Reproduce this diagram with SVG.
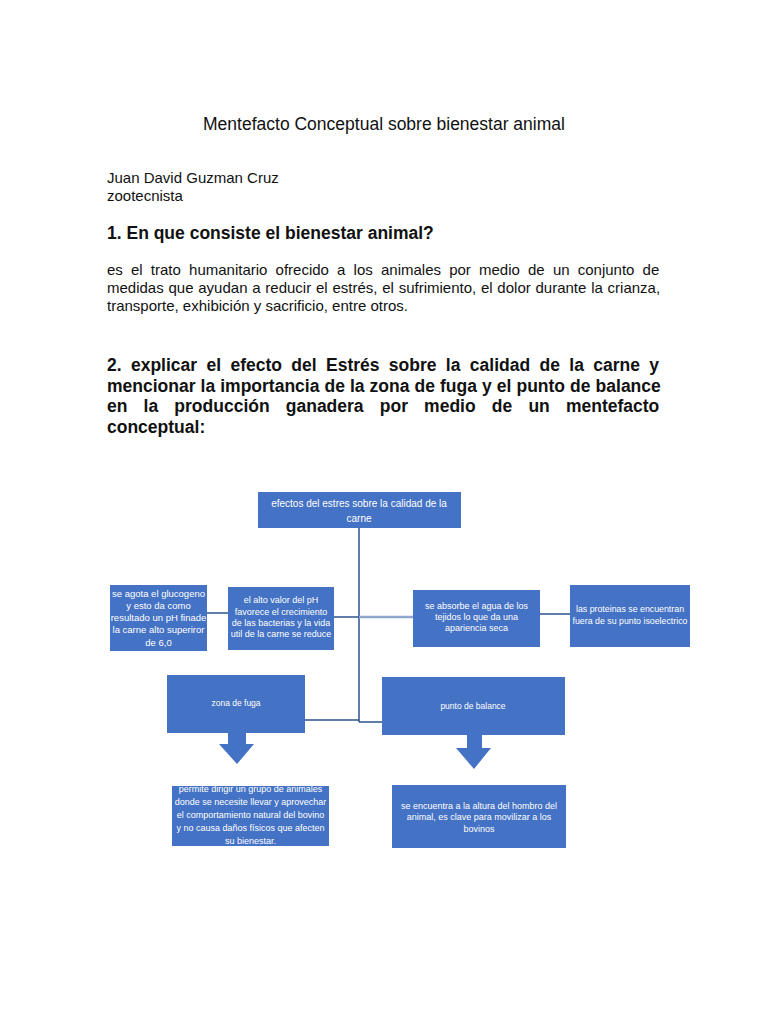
<svg xmlns="http://www.w3.org/2000/svg" width="768" height="1024" viewBox="0 0 768 1024">
<style>
.t{font-family:"Liberation Sans",Arial,sans-serif;fill:#111}
.b{font-weight:bold}
.box{fill:#4472C4}
.w{font-family:"Liberation Sans",Arial,sans-serif;fill:#fff;text-anchor:middle}
.ln{stroke:#2F528F;stroke-width:1.5;fill:none}
</style>
<rect width="768" height="1024" fill="#fff"/>
<text class="t" x="384" y="130" font-size="17.5" text-anchor="middle">Mentefacto Conceptual sobre bienestar animal</text>
<text class="t" x="107" y="183" font-size="15">Juan David Guzman Cruz</text>
<text class="t" x="107" y="201" font-size="15">zootecnista</text>
<text class="t b" x="107" y="239" font-size="17.5">1. En que consiste el bienestar animal?</text>
<text class="t" x="107" y="275" font-size="15" word-spacing="4">es el trato humanitario ofrecido a los animales por medio de un conjunto de</text>
<text class="t" x="107" y="293" font-size="15" word-spacing="0.6">medidas que ayudan a reducir el estrés, el sufrimiento, el dolor durante la crianza,</text>
<text class="t" x="107" y="311" font-size="15">transporte, exhibición y sacrificio, entre otros.</text>
<text class="t b" x="107" y="371" font-size="17.5" word-spacing="4.5">2. explicar el efecto del Estrés sobre la calidad de la carne y</text>
<text class="t b" x="107" y="391.5" font-size="17.5" word-spacing="0.2">mencionar la importancia de la zona de fuga y el punto de balance</text>
<text class="t b" x="107" y="412" font-size="17.5" word-spacing="11.3">en la producción ganadera por medio de un mentefacto</text>
<text class="t b" x="107" y="432.5" font-size="17.5">conceptual:</text>

<g id="connectors">
<line class="ln" x1="359" y1="528" x2="359" y2="722"/>
<line class="ln" x1="207" y1="613" x2="228" y2="613"/>
<line class="ln" x1="334" y1="617" x2="359" y2="617"/>
<line x1="359" y1="617" x2="413" y2="617" stroke="#8FA6CF" stroke-width="2.5"/>
<line class="ln" x1="540" y1="614" x2="570" y2="614"/>
<line class="ln" x1="305" y1="720" x2="359" y2="720"/>
<line class="ln" x1="359" y1="722" x2="382" y2="722"/>
</g>

<g id="n-top">
<rect class="box" x="258" y="492" width="203" height="36"/>
<text class="w" x="359" y="507" font-size="10">efectos del estres sobre la calidad de la</text>
<text class="w" x="359" y="522" font-size="10">carne</text>
</g>
<g id="n-glucogeno">
<rect class="box" x="110" y="585" width="97" height="66"/>
<text class="w" font-size="9.5"><tspan x="158.5" y="597">se agota el glucogeno</tspan><tspan x="158.5" y="609">y esto da como</tspan><tspan x="158.5" y="621">resultado un pH finade</tspan><tspan x="158.5" y="633">la carne alto superiror</tspan><tspan x="158.5" y="646">de 6,0</tspan></text>
</g>
<g id="n-ph">
<rect class="box" x="228" y="587" width="106" height="63"/>
<text class="w" font-size="9"><tspan x="281" y="603">el alto valor del pH</tspan><tspan x="281" y="615">favorece el crecimiento</tspan><tspan x="281" y="626">de las bacterias y la vida</tspan><tspan x="281" y="637">util de la carne se reduce</tspan></text>
</g>
<g id="n-agua">
<rect class="box" x="413" y="590" width="127" height="57"/>
<text class="w" font-size="9"><tspan x="476.5" y="609">se absorbe el agua de los</tspan><tspan x="476.5" y="620">tejidos lo que da una</tspan><tspan x="476.5" y="631">apariencia seca</tspan></text>
</g>
<g id="n-proteinas">
<rect class="box" x="570" y="585" width="120" height="62"/>
<text class="w" font-size="8.8"><tspan x="630" y="612">las proteinas se encuentran</tspan><tspan x="630" y="624">fuera de su punto isoelectrico</tspan></text>
</g>
<g id="n-zona">
<rect class="box" x="167" y="675" width="138" height="58"/>
<text class="w" x="236" y="706" font-size="8.5">zona de fuga</text>
<polygon class="box" points="228,733 246,733 246,744 254,744 237,764 219,744 228,744"/>
</g>
<g id="n-punto">
<rect class="box" x="382" y="677" width="183" height="58"/>
<text class="w" x="473" y="709" font-size="8.5">punto de balance</text>
<polygon class="box" points="467,735 482,735 482,748 491,748 474,769 456,748 467,748"/>
</g>
<g id="n-permite">
<rect class="box" x="172" y="786" width="157" height="60"/>
<text class="w" font-size="9"><tspan x="250.5" y="792">permite dirigir un grupo de animales</tspan><tspan x="250.5" y="805">donde se necesite llevar y aprovechar</tspan><tspan x="250.5" y="818">el comportamiento natural del bovino</tspan><tspan x="250.5" y="831">y no causa daños físicos que afecten</tspan><tspan x="250.5" y="844">su bienestar.</tspan></text>
</g>
<g id="n-encuentra">
<rect class="box" x="392" y="785" width="174" height="63"/>
<text class="w" font-size="9"><tspan x="479" y="809">se encuentra a la altura del hombro del</tspan><tspan x="479" y="820">animal, es clave para movilizar a los</tspan><tspan x="479" y="832">bovinos</tspan></text>
</g>
</svg>
